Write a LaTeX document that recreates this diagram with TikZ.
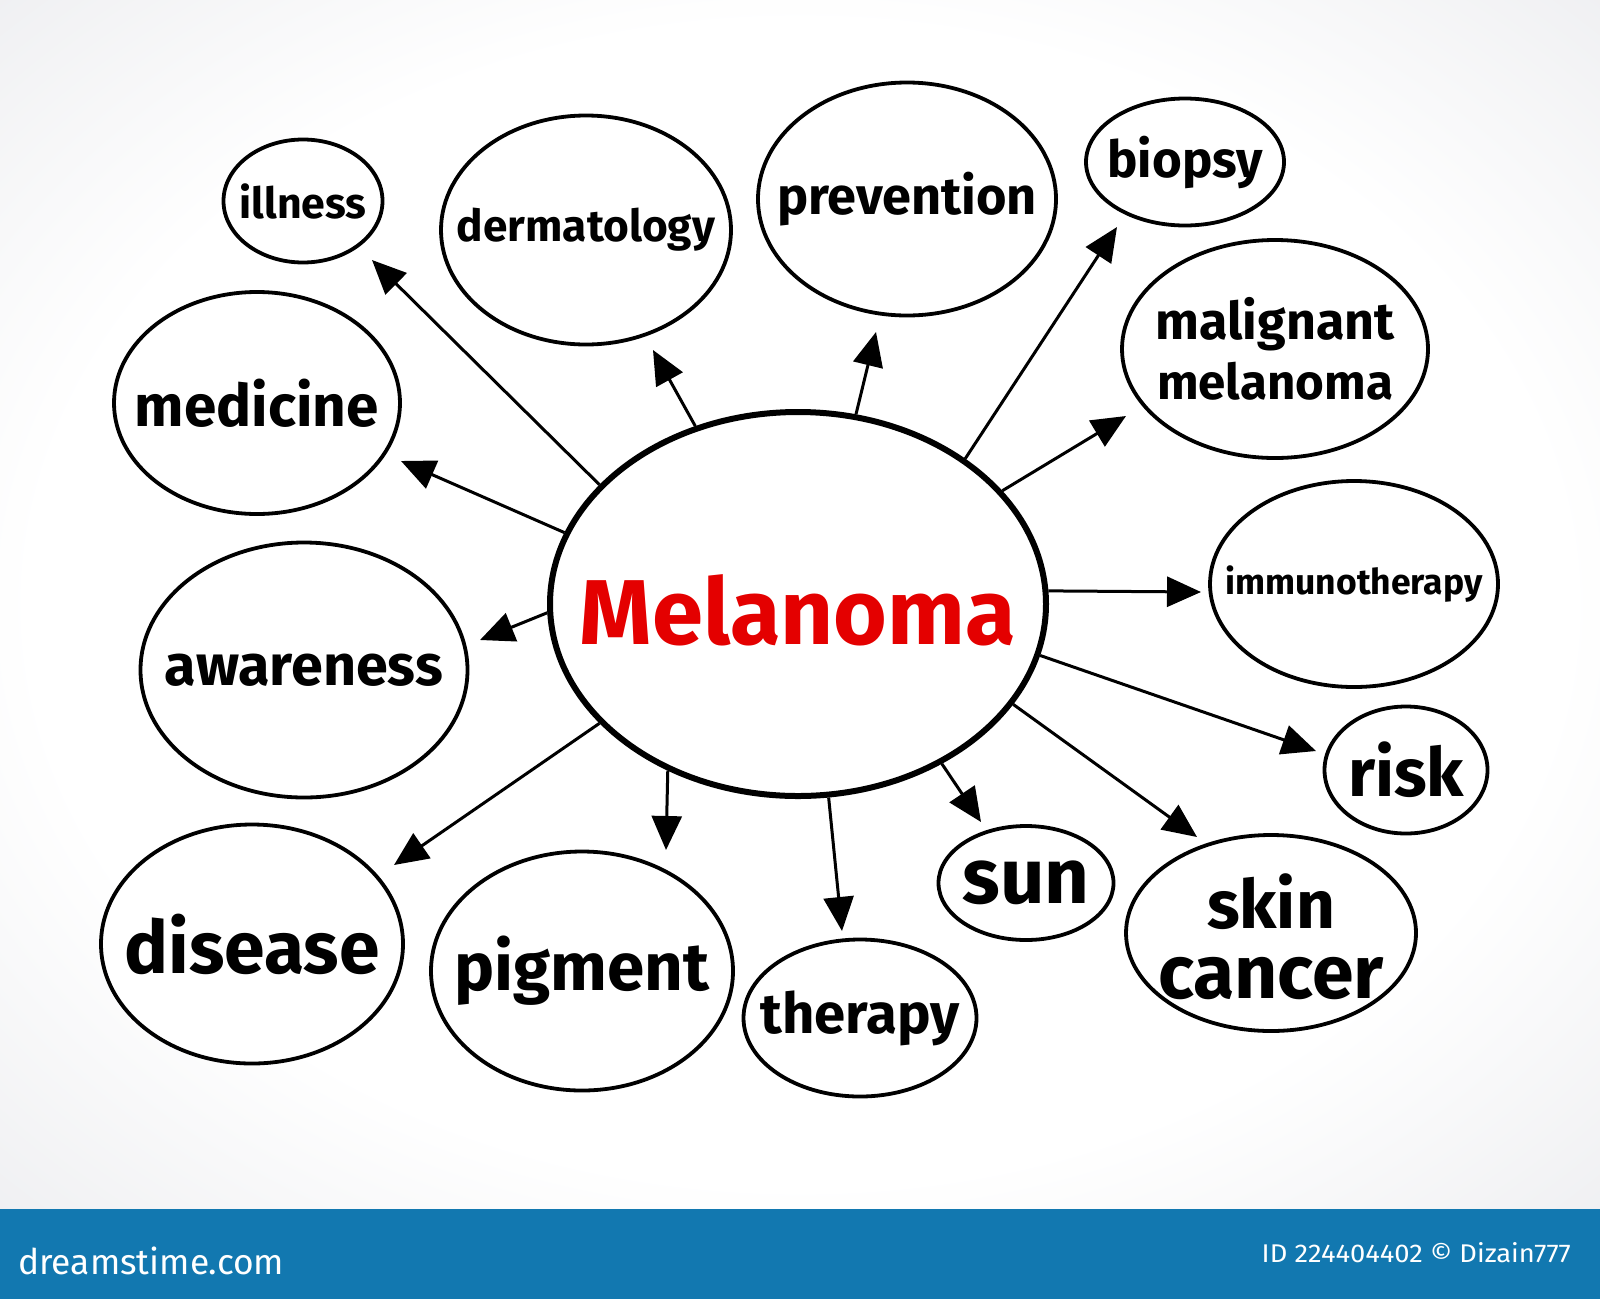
\documentclass[tikz,border=0pt]{standalone}
\usepackage{fontspec}
\setmainfont{Fira Sans}
\usetikzlibrary{arrows.meta,shapes.geometric}
\definecolor{graybg}{RGB}{220,221,226}
\definecolor{barblue}{RGB}{18,120,176}
\definecolor{melred}{RGB}{228,0,0}
\pgfdeclareradialshading{bgshade}{\pgfpoint{0bp}{0bp}}{color(0bp)=(white); color(24bp)=(white); color(50bp)=(graybg)}
\newcommand{\fw}[2]{\resizebox{#1pt}{!}{\bfseries #2}}
\tikzset{
  bub/.style={ellipse, draw, line width=3.8pt, fill=white, inner sep=0pt},
  arr/.style={line width=3pt, -{Triangle[length=34pt,width=30pt]}},
  lab/.style={label={[align=center, inner sep=0pt]center:{#1}}},
}
\begin{document}
\begin{tikzpicture}[x=1pt,y=-1pt]
\useasboundingbox (0,0) rectangle (1600,1299);
\shade[shading=bgshade] (0,0) rectangle (1600,1209);
\fill[barblue] (0,1209) rectangle (1600,1299);
\node[anchor=west, text=white, inner sep=0pt] (dt) at (18,1261) {\resizebox{266pt}{!}{dreamstime.com}};
\node[anchor=east, text=white, inner sep=0pt] (id) at (1571,1253) {\resizebox{309pt}{20pt}{ID 224404402 © Dizain777}};

% central
\node[bub, line width=6pt, minimum width=496pt, minimum height=384pt,
  label={[inner sep=0pt, yshift=-6pt]center:{\resizebox{436pt}{!}{\color{melred}\bfseries Melanoma}}}] (m) at (798,604) {};

% satellites
\node[bub, minimum width=159pt, minimum height=123pt, lab={\fw{127}{illness}}] (ill) at (303,201) {};
\node[bub, minimum width=290pt, minimum height=229pt, lab={\fw{258}{dermatology}}] (der) at (586,230) {};
\node[bub, minimum width=298pt, minimum height=233pt, lab={\fw{260}{prevention}}] (pre) at (907,199) {};
\node[bub, minimum width=198pt, minimum height=127pt, lab={\fw{155}{biopsy}}] (bio) at (1185,162) {};
\node[bub, minimum width=306pt, minimum height=218pt,
  label={[align=center, inner sep=0pt, font=\fontsize{40}{60}\selectfont]center:{\fw{239}{malignant}\\\fw{236}{melanoma}}}] (mal) at (1275,349) {};
\node[bub, minimum width=288pt, minimum height=206pt, lab={\fw{257}{immunotherapy}}] (imm) at (1354,584) {};
\node[bub, minimum width=163pt, minimum height=127pt, lab={\fw{116}{risk}}] (ris) at (1406,770) {};
\node[bub, minimum width=290pt, minimum height=196pt,
  label={[align=center, inner sep=0pt, yshift=-4pt, font=\fontsize{40}{70}\selectfont]center:{\fw{128}{skin}\\\fw{226}{cancer}}}] (ski) at (1271,933) {};
\node[bub, minimum width=175pt, minimum height=114pt, lab={\fw{127}{sun}}] (sun) at (1026,883) {};
\node[bub, minimum width=233pt, minimum height=157pt, lab={\fw{199}{therapy}}] (the) at (860,1018) {};
\node[bub, minimum width=302pt, minimum height=239pt, lab={\fw{255}{pigment}}] (pig) at (582,971) {};
\node[bub, minimum width=302pt, minimum height=239pt, lab={\fw{255}{disease}}] (dis) at (252,944) {};
\node[bub, minimum width=327pt, minimum height=255pt, lab={\fw{278}{awareness}}] (awa) at (304,670) {};
\node[bub, minimum width=286pt, minimum height=222pt, lab={\fw{244}{medicine}}] (med) at (257,403) {};

% arrow tips
\coordinate (tIll) at (372,260);
\coordinate (tDer) at (653,350);
\coordinate (tPre) at (876,332);
\coordinate (tBio) at (1117,227);
\coordinate (tMal) at (1126,416);
\coordinate (tImm) at (1201,592);
\coordinate (tRis) at (1316,751);
\coordinate (tSki) at (1197,837);
\coordinate (tSun) at (981,822);
\coordinate (tThe) at (842,931);
\coordinate (tPig) at (666,850);
\coordinate (tDis) at (394,865);
\coordinate (tAwa) at (480,640);
\coordinate (tMed) at (401,461);

\draw[arr] (m.149.9) -- (tIll);
\draw[arr] (m.120.8) -- (tDer);
\draw[arr] (m.73.1) -- (tPre);
\draw[arr] (m.41.7) -- (tBio);
\draw[arr] (m.29.7) -- (tMal);
\draw[arr] (m.3.4) -- (tImm);
\draw[arr] (m.-12.6) -- (tRis);
\draw[arr] (m.-25.6) -- (tSki);
\draw[arr] (m.-48.4) -- (tSun);
\draw[arr] (m.-81.8) -- (tThe);
\draw[arr] (m.232.3) -- (tPig);
\draw[arr] (m.211.7) -- (tDis);
\draw[arr] (m.182.7) -- (tAwa);
\draw[arr] (m.163.9) -- (tMed);
\end{tikzpicture}
\end{document}
